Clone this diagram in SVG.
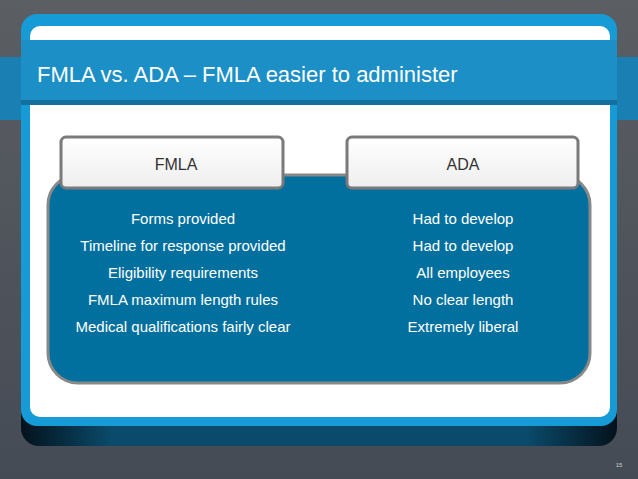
<svg xmlns="http://www.w3.org/2000/svg" width="638" height="479" viewBox="0 0 638 479">
<defs>
<linearGradient id="bg" x1="0" y1="0" x2="0" y2="1"><stop offset="0" stop-color="#5b5e63"/><stop offset="1" stop-color="#454b55"/></linearGradient>
<linearGradient id="sh" x1="0" y1="0" x2="1" y2="0"><stop offset="0" stop-color="#04121c"/><stop offset="0.15" stop-color="#0a4a6a"/><stop offset="0.85" stop-color="#0a4a6a"/><stop offset="1" stop-color="#04121c"/></linearGradient>
<linearGradient id="hb" x1="0" y1="0" x2="0" y2="1"><stop offset="0" stop-color="#ffffff"/><stop offset="1" stop-color="#eeeeee"/></linearGradient>
</defs>
<style>
.t{font-family:"Liberation Sans",Arial,sans-serif;fill:#fff;font-size:15px;text-anchor:middle}
.h{font-family:"Liberation Sans",Arial,sans-serif;fill:#333;font-size:16px;text-anchor:middle}
.hdr{fill:url(#hb);stroke:#7a7a7a;stroke-width:3}
</style>
<rect width="638" height="479" fill="url(#bg)"/>
<rect x="0" y="57" width="638" height="63" fill="#1a7fb3"/>
<rect x="21" y="70" width="596" height="376" rx="18" fill="url(#sh)"/>
<rect x="21" y="14" width="596" height="412" rx="16" fill="#169bd6"/>
<rect x="30" y="26" width="580" height="391" rx="10" fill="#ffffff"/>
<rect x="21" y="40" width="596" height="64" fill="#1b8fc6"/>
<rect x="21" y="100" width="596" height="5" fill="#136f9d"/>
<text x="37" y="82" font-family="Liberation Sans,Arial,sans-serif" font-size="22" fill="#fff">FMLA vs. ADA – FMLA easier to administer</text>
<g id="content">
<rect x="48" y="175" width="542" height="208" rx="30" fill="#02709e" stroke="#888" stroke-width="3"/>
</g>
<g id="fmla">
<rect class="hdr" x="61" y="137" width="222" height="51" rx="5"/>
<text class="h" x="176" y="170">FMLA</text>
</g>
<g id="ada">
<rect class="hdr" x="347" y="137" width="231" height="51" rx="5"/>
<text class="h" x="463" y="170">ADA</text>
</g>
<g id="left">
<text class="t" x="183" y="224">Forms provided</text>
<text class="t" x="183" y="251">Timeline for response provided</text>
<text class="t" x="183" y="278">Eligibility requirements</text>
<text class="t" x="183" y="305">FMLA maximum length rules</text>
<text class="t" x="183" y="332">Medical qualifications fairly clear</text>
</g>
<g id="right">
<text class="t" x="463" y="224">Had to develop</text>
<text class="t" x="463" y="251">Had to develop</text>
<text class="t" x="463" y="278">All employees</text>
<text class="t" x="463" y="305">No clear length</text>
<text class="t" x="463" y="332">Extremely liberal</text>
</g>
<g id="connectors"/>
<text x="619" y="467" font-family="Liberation Sans,Arial,sans-serif" font-size="6" fill="#ccc" text-anchor="middle">15</text>
</svg>
